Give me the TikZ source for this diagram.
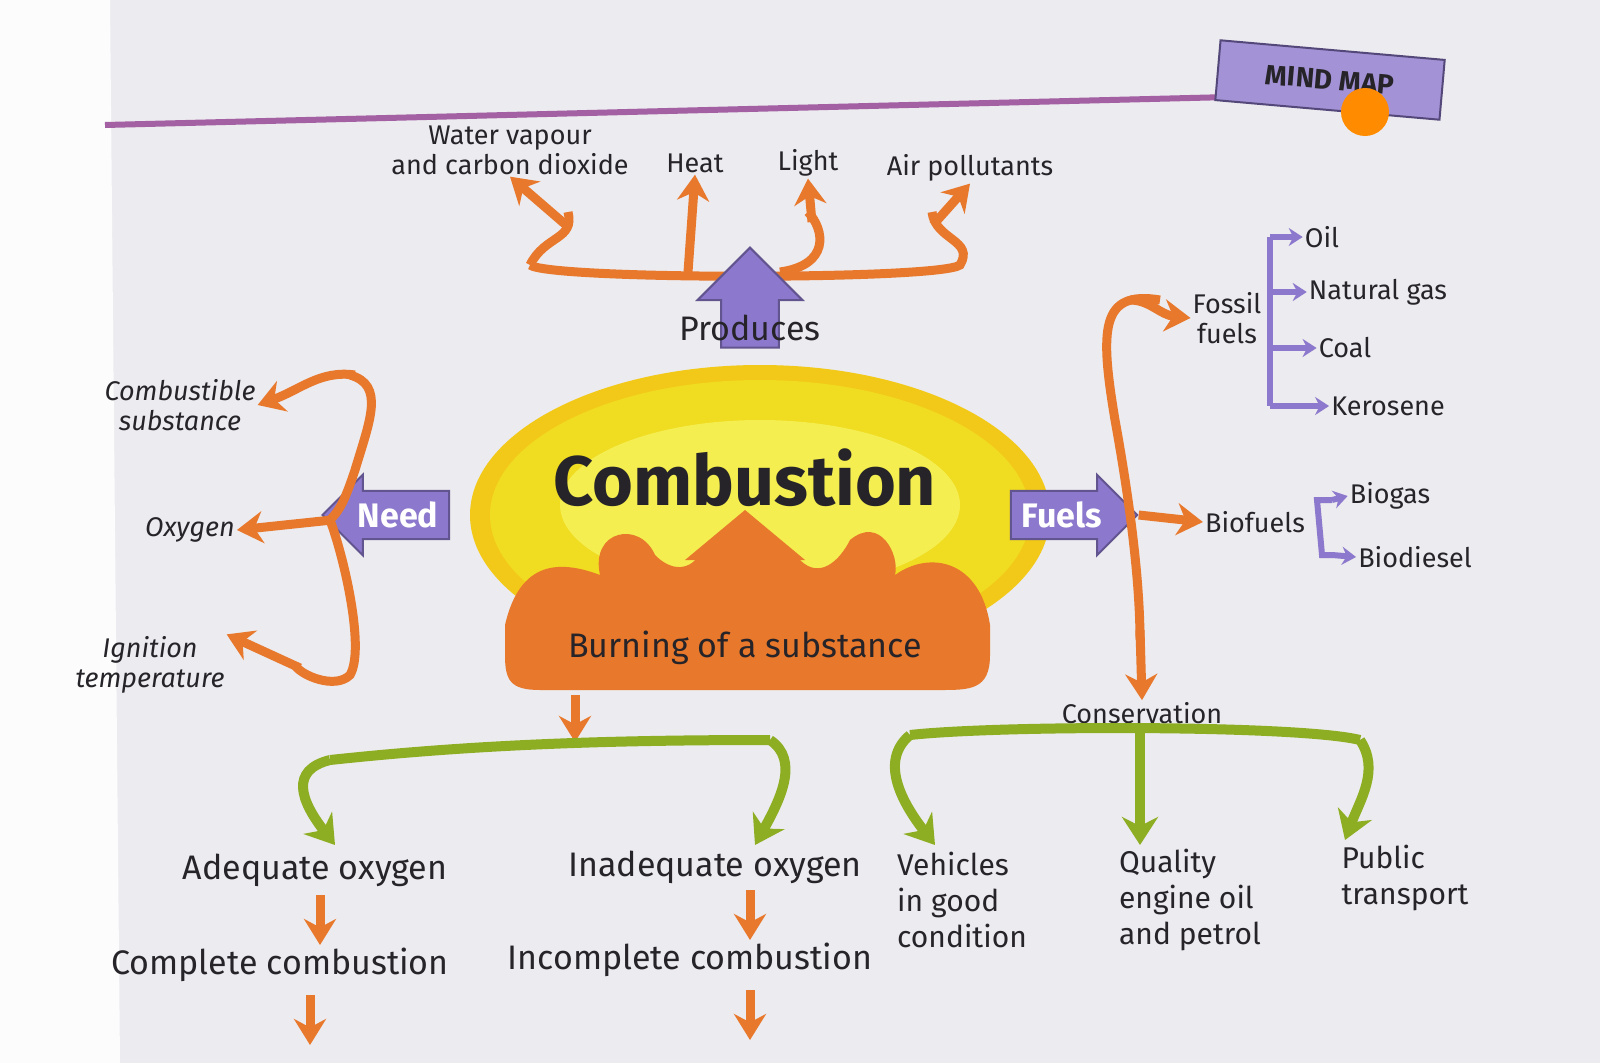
\documentclass[tikz,border=0pt]{standalone}
\usepackage{fontspec}
\setmainfont{Fira Sans}
\usetikzlibrary{arrows.meta,shapes.arrows}
\definecolor{org}{HTML}{E8782C}
\definecolor{grn}{HTML}{8DAE22}
\definecolor{pur}{HTML}{8C78CC}
\definecolor{ylw}{HTML}{F0DC20}
\definecolor{ylw2}{HTML}{F4EE50}
\definecolor{bg}{HTML}{ECEBEF}
\definecolor{ink}{HTML}{262428}
\tikzset{
 oline/.style={draw=org,line width=9pt,-{Stealth[length=26pt,width=32pt]}},
 onl/.style={draw=org,line width=9pt},
 gline/.style={draw=grn,line width=10pt,-{Stealth[length=28pt,width=36pt]}},
 gnl/.style={draw=grn,line width=10pt},
 pline/.style={draw=pur,line width=6pt,-{Stealth[length=14pt,width=18pt]}},
 pnl/.style={draw=pur,line width=6pt},
 lbl/.style={text=ink,font=\fontsize{27}{30}\selectfont,align=center,inner sep=2pt},
 big/.style={text=ink,font=\fontsize{34}{38}\selectfont,align=center,inner sep=2pt},
 ital/.style={lbl,font=\itshape\fontsize{27}{30}\selectfont},
 parrow/.style={single arrow,fill=pur,draw=pur!70!black,line width=2pt,text=white,font=\bfseries\fontsize{34}{36}\selectfont,single arrow head extend=16pt,inner sep=10pt,minimum height=120pt}
}
\begin{document}
\begin{tikzpicture}[x=1pt,y=-1pt]
\useasboundingbox (0,0) rectangle (1600,1063);
\fill[bg] (0,0) rectangle (1600,1063);
\fill[white!85!bg] (0,0) -- (110,0) -- (120,1063) -- (0,1063) -- cycle;
% header line
\draw[pur!80!red,line width=6pt] (105,125) -- (1230,97);
\node[fill=pur!80,draw=pur!60!black,line width=2pt,text=ink,font=\bfseries\fontsize{28}{30}\selectfont,rotate=-5,minimum width=225pt,minimum height=60pt] (mm) at (1330,80) {MIND MAP};
\fill[orange!90!yellow] (1365,112) circle (24);
% top labels
\node[lbl] (wv) at (510,150) {Water vapour\\and carbon dioxide};
\node[lbl] (heat) at (695,163) {Heat};
\node[lbl] (light) at (808,163) {Light};
\node[lbl] (air) at (970,168) {Air pollutants};
\draw[onl] (530,265) .. controls (545,235) and (575,240) .. (568,212);
\draw[oline] (566,225) -- (wv.south);
\draw[onl] (530,265) .. controls (550,280) and (940,280) .. (960,265) .. controls (975,240) and (935,240) .. (932,212);
\draw[oline] (933,225) -- (air.south);
\draw[oline] (688,272) -- (heat.south);
\draw[onl] (780,272) .. controls (830,265) and (825,230) .. (808,212);
\draw[oline] (812,222) -- (light.south);
% Produces
\node[single arrow,shape border rotate=90,fill=pur,draw=pur!70!black,line width=2pt,minimum height=100pt,minimum width=105pt,single arrow head extend=14pt,inner sep=16pt] (prodA) at (750,312) {};
\node[big] (prod) at (750,328) {Produces};
% Combustion blob
\fill[ylw!80!orange] (760,515) ellipse (290 and 150);
\fill[ylw] (760,515) ellipse (270 and 135);
\fill[ylw2] (760,505) ellipse (200 and 85);
\fill[org] (505,625) .. controls (520,560) and (560,560) .. (600,575)
 .. controls (590,530) and (640,520) .. (655,555) .. controls (680,580) and (700,560) .. (700,550)
 -- (745,515) -- (800,560) .. controls (820,580) and (840,560) .. (850,540)
 .. controls (880,515) and (900,555) .. (895,575) .. controls (930,550) and (980,560) .. (990,625)
 -- (990,655) .. controls (990,690) and (970,690) .. (940,690) -- (540,690) .. controls (510,690) and (505,680) .. (505,655) -- cycle;
\fill[org] (745,510) -- (805,560) -- (772,560) -- (772,600) -- (718,600) -- (718,560) -- (685,560) -- cycle;
\node[text=ink,font=\bfseries\fontsize{70}{74}\selectfont] (comb) at (745,478) {Combustion};
\node[big] (burn) at (745,648) {Burning of a substance};
% Need
\node[parrow,shape border rotate=180] (need) at (398,515) {Need};
\node[ital] (cs) at (180,405) {Combustible\\substance};
\node[ital] (ox) at (190,530) {Oxygen};
\node[ital] (ig) at (150,665) {Ignition\\temperature};
\draw[onl] (350,375) .. controls (385,385) and (370,420) .. (355,470) .. controls (345,500) and (340,510) .. (330,520) .. controls (345,560) and (365,650) .. (350,675) .. controls (335,690) and (300,675) .. (295,665);
\draw[oline] (355,375) .. controls (320,370) and (300,390) .. (cs.east);
\draw[oline] (332,520) -- (ox.east);
\draw[oline] (300,668) -- (ig.north east);
% Fuels
\node[parrow] (fuels) at (1062,515) {Fuels};
\node[lbl] (ff) at (1227,318) {Fossil\\fuels};
\node[lbl] (bio) at (1255,522) {Biofuels};
\node[lbl] (cons) at (1142,713) {Conservation};
\draw[onl] (1160,300) .. controls (1100,290) and (1100,330) .. (1115,420) .. controls (1135,530) and (1140,600) .. (1140,640);
\draw[oline] (1140,630) -- (cons.north);
\draw[oline] (1130,300) .. controls (1150,300) and (1160,315) .. (ff.west);
\draw[oline] (fuels.east) -- (bio.west);
\node[lbl] (oil) at (1322,237) {Oil};
\node[lbl] (ng) at (1378,292) {Natural gas};
\node[lbl] (coal) at (1345,348) {Coal};
\node[lbl] (ker) at (1388,406) {Kerosene};
\draw[pnl] (1270,237) -- (1270,406);
\foreach \n in {oil,ng,coal,ker} \draw[pline] (1270,0 |- \n.west) -- (\n.west);
\node[lbl] (bg) at (1390,496) {Biogas};
\node[lbl] (bd) at (1415,557) {Biodiesel};
\draw[pnl] (1332,500) -- (1317,500) -- (1322,555) -- (1332,555);
\draw[pline] (1332,500) -- (bg.west);
\draw[pline] (1332,555) -- (bd.west);
% bottom left green
\node[big] (ad) at (315,870) {Adequate oxygen};
\node[big] (inad) at (715,867) {Inadequate oxygen};
\node[big] (cc) at (280,965) {Complete combustion};
\node[big] (ic) at (690,960) {Incomplete combustion};
\coordinate (lt) at (575,742);
\draw[oline] (575,695) -- (lt);
\draw[gnl] (330,760) .. controls (470,745) and (600,740) .. (770,740);
\draw[gline] (330,760) .. controls (290,770) and (300,800) .. (335,845);
\draw[gline] (770,740) .. controls (800,760) and (780,800) .. (755,845);
\draw[oline] (320,895) -- (320,945);
\draw[oline] (750,890) -- (750,940);
\coordinate (e1) at (310,1045);
\coordinate (e2) at (750,1040);
\draw[oline] (310,995) -- (e1);
\draw[oline] (750,990) -- (e2);
% bottom right green
\node[lbl,align=left,font=\fontsize{30}{36}\selectfont] (veh) at (962,900) {Vehicles\\in good\\condition};
\node[lbl,align=left,font=\fontsize{30}{36}\selectfont] (qual) at (1190,900) {Quality\\engine oil\\and petrol};
\node[lbl,align=left,font=\fontsize{30}{36}\selectfont] (pub) at (1405,878) {Public\\transport};
\draw[gnl] (910,735) .. controls (1000,725) and (1300,725) .. (1360,740);
\draw[gline] (910,735) .. controls (880,760) and (900,800) .. (935,845);
\draw[gline] (1360,740) .. controls (1380,770) and (1360,800) .. (1345,840);
\draw[gline] (1140,730) -- (1140,845);
\end{tikzpicture}
\end{document}
